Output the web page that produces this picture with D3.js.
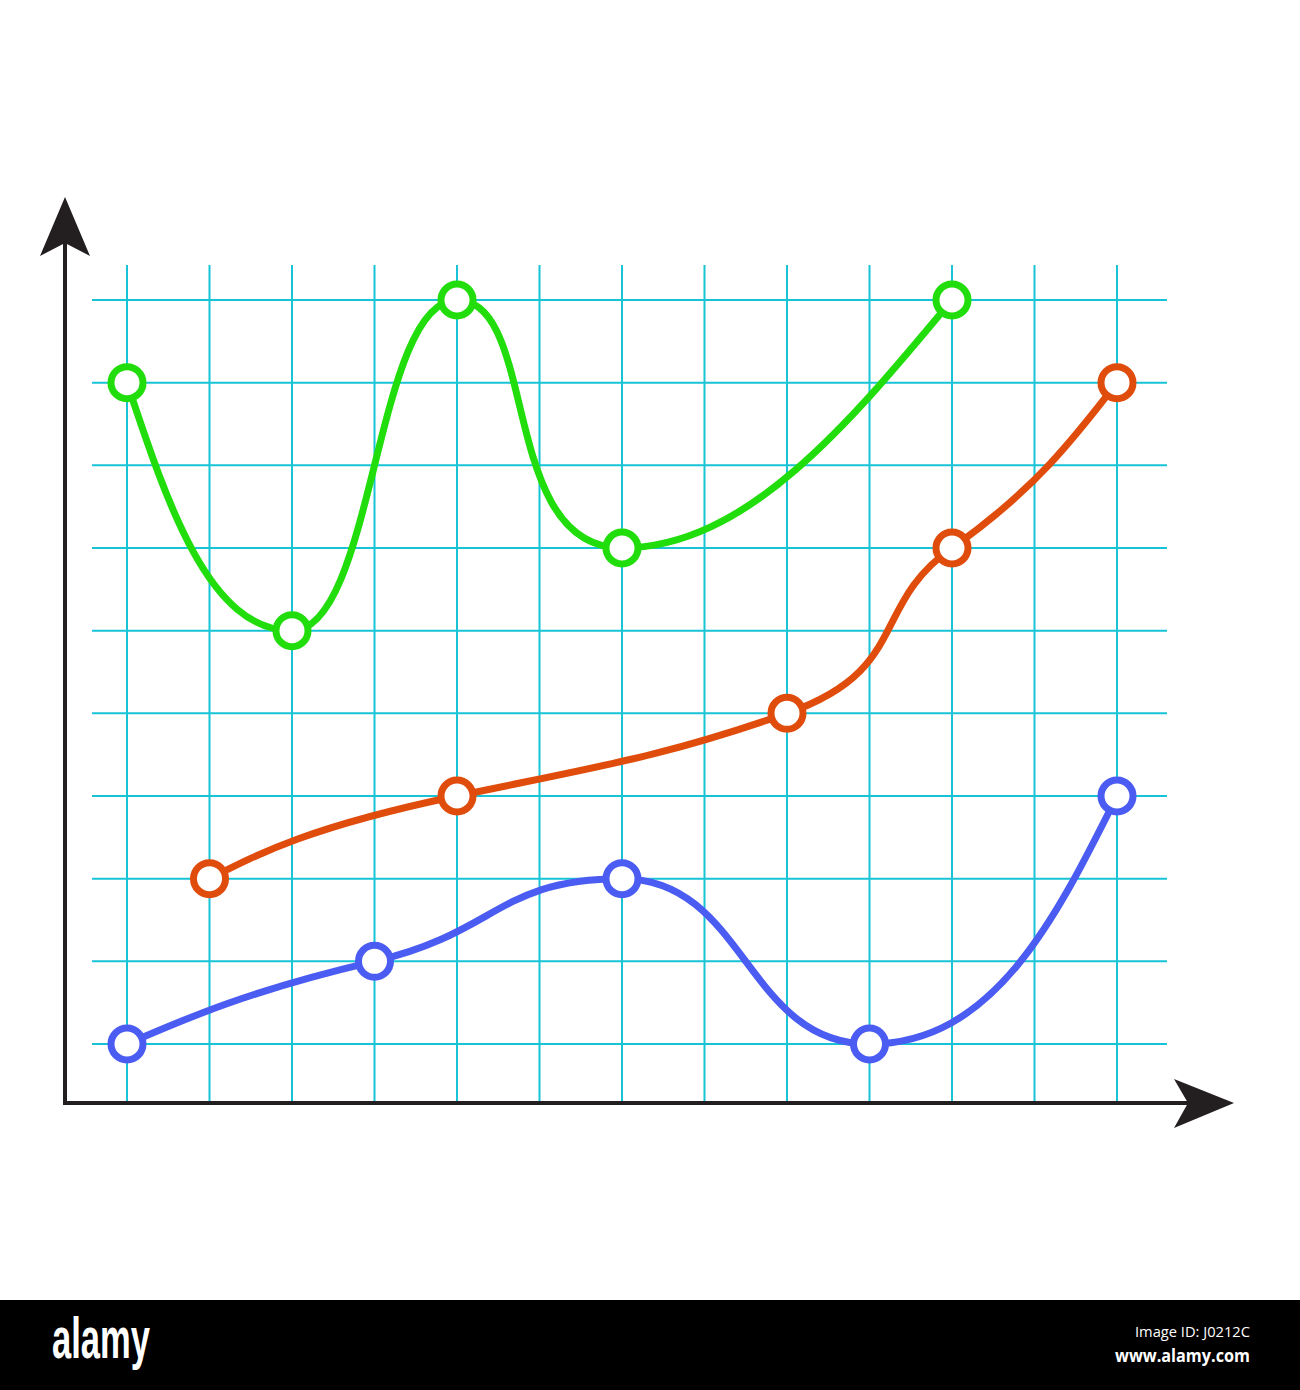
<!DOCTYPE html>
<html>
<head>
<meta charset="utf-8">
<script src="https://cdn.jsdelivr.net/npm/d3@7"></script>
<style>
  html, body { margin: 0; padding: 0; background: #fff; }
  svg { display: block; }
</style>
</head>
<body>
<svg width="1300" height="1390"></svg>
<script>
// grid columns and rows
let xTicks = [0, 1, 2, 3, 4, 5, 6, 7, 8, 9, 10, 11, 12];
let yTicks = [0, 1, 2, 3, 4, 5, 6, 7, 8, 9];

// series, as [column, row]
let greenSeries  = [[0, 8], [2, 5], [4, 9], [6, 6], [10, 9]];
let orangeSeries = [[1, 2], [4, 3], [8, 4], [10, 6], [12, 8]];
let blueSeries   = [[0, 0], [3, 1], [6, 2], [9, 0], [12, 3]];

let series = [
  {name: "green",  color: "#22dd0c", values: greenSeries},
  {name: "orange", color: "#e04c0c", values: orangeSeries},
  {name: "blue",   color: "#4b5cf2", values: blueSeries}
];

let svg = d3.select("svg");

let x = d3.scaleLinear().domain([0, 12]).range([127, 1117]);
let y = d3.scaleLinear().domain([0, 9]).range([1044, 300]);

let gridColor = "#19c3d6";
let grid = svg.append("g").attr("class", "grid");

grid.selectAll("line.v")
  .data(xTicks)
  .join("line")
    .attr("class", "v")
    .attr("x1", d => x(d)).attr("x2", d => x(d))
    .attr("y1", 265).attr("y2", 1103)
    .attr("stroke", gridColor)
    .attr("stroke-width", 2);

grid.selectAll("line.h")
  .data(yTicks)
  .join("line")
    .attr("class", "h")
    .attr("x1", 92).attr("x2", 1167)
    .attr("y1", d => y(d)).attr("y2", d => y(d))
    .attr("stroke", gridColor)
    .attr("stroke-width", 2);

// axes with arrow heads
let axisColor = "#231f20";
let axes = svg.append("g").attr("class", "axes");
axes.append("line")
  .attr("x1", 65).attr("x2", 65).attr("y1", 240).attr("y2", 1105)
  .attr("stroke", axisColor).attr("stroke-width", 4);
axes.append("line")
  .attr("x1", 63).attr("x2", 1190).attr("y1", 1103).attr("y2", 1103)
  .attr("stroke", axisColor).attr("stroke-width", 4);
axes.append("path")
  .attr("d", "M65,197 L90,256 L65,243 L40,256 Z")
  .attr("fill", axisColor);
axes.append("path")
  .attr("d", "M1234,1103 L1174,1079 L1188,1103 L1174,1128 Z")
  .attr("fill", axisColor);

// smooth line: monotone-style tangents, long symmetric handles,
// natural (zero curvature) ends
function smoothPath(pts) {
  let n = pts.length;
  let s = [];
  for (let i = 0; i < n - 1; i++)
    s.push((pts[i + 1][1] - pts[i][1]) / (pts[i + 1][0] - pts[i][0]));
  let cps = [];
  for (let i = 1; i < n - 1; i++) {
    let h0 = pts[i][0] - pts[i - 1][0], h1 = pts[i + 1][0] - pts[i][0];
    let m = 0;
    if (s[i - 1] * s[i] > 0) {
      let p = (s[i - 1] * h1 + s[i] * h0) / (h0 + h1);
      m = Math.sign(p) * 2 * Math.min(Math.abs(s[i - 1]), Math.abs(s[i]), 0.5 * Math.abs(p));
    }
    m *= 0.7;
    let L = (pts[i + 1][0] - pts[i - 1][0]) / 4;
    cps[i] = {
      inn: [pts[i][0] - L, pts[i][1] - L * m],
      out: [pts[i][0] + L, pts[i][1] + L * m]
    };
  }
  let first = [(pts[0][0] + cps[1].inn[0]) / 2, (pts[0][1] + cps[1].inn[1]) / 2];
  let last = [(pts[n - 1][0] + cps[n - 2].out[0]) / 2, (pts[n - 1][1] + cps[n - 2].out[1]) / 2];
  cps[0] = {out: first};
  cps[n - 1] = {inn: last};

  let path = d3.path();
  path.moveTo(x(pts[0][0]), y(pts[0][1]));
  for (let i = 0; i < n - 1; i++) {
    let c1 = cps[i].out, c2 = cps[i + 1].inn;
    path.bezierCurveTo(x(c1[0]), y(c1[1]), x(c2[0]), y(c2[1]), x(pts[i + 1][0]), y(pts[i + 1][1]));
  }
  return path.toString();
}

let groups = svg.append("g").attr("class", "series")
  .selectAll("g")
  .data(series)
  .join("g");

groups.append("path")
  .attr("d", d => smoothPath(d.values))
  .attr("fill", "none")
  .attr("stroke", d => d.color)
  .attr("stroke-width", 7)
  .attr("stroke-linecap", "round");

groups.selectAll("circle")
  .data(d => d.values.map(v => ({v: v, color: d.color})))
  .join("circle")
    .attr("cx", d => x(d.v[0]))
    .attr("cy", d => y(d.v[1]))
    .attr("r", 16)
    .attr("fill", "#fff")
    .attr("stroke", d => d.color)
    .attr("stroke-width", 7);

// footer bar
let footer = svg.append("g").attr("class", "footer");
footer.append("rect")
  .attr("x", 0).attr("y", 1300).attr("width", 1300).attr("height", 90)
  .attr("fill", "#000");
footer.append("text")
  .attr("x", 52).attr("y", 1358)
  .attr("font-family", "'Liberation Sans', Arial, sans-serif")
  .attr("font-weight", "bold")
  .attr("font-size", 58)
  .attr("textLength", 98)
  .attr("lengthAdjust", "spacingAndGlyphs")
  .attr("fill", "#fff")
  .text("alamy");
footer.append("text")
  .attr("x", 1250).attr("y", 1337)
  .attr("text-anchor", "end")
  .attr("font-family", "'Open Sans', 'Noto Sans', sans-serif")
  .attr("font-size", 15)
  .attr("textLength", 115)
  .attr("lengthAdjust", "spacingAndGlyphs")
  .attr("fill", "#fff")
  .text("Image ID: J0212C");
footer.append("text")
  .attr("x", 1250).attr("y", 1362)
  .attr("text-anchor", "end")
  .attr("font-family", "'Open Sans', 'Noto Sans', sans-serif")
  .attr("font-weight", "bold")
  .attr("font-size", 18)
  .attr("textLength", 135)
  .attr("lengthAdjust", "spacingAndGlyphs")
  .attr("fill", "#fff")
  .text("www.alamy.com");
</script>
</body>
</html>
